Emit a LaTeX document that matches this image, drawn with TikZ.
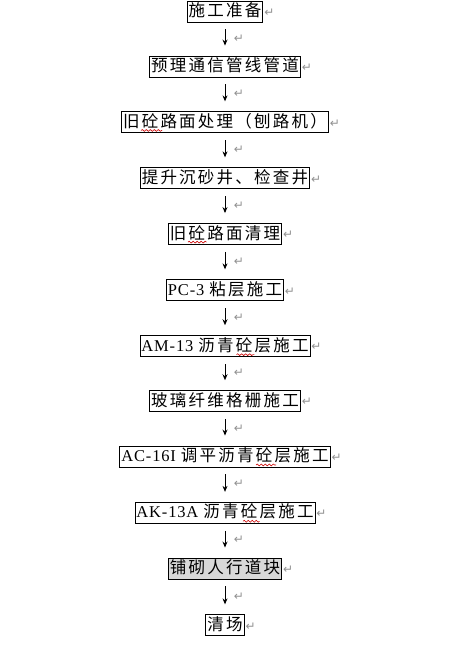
\documentclass[tikz,border=0pt]{standalone}
\usepackage{fontspec}
\setmainfont{Liberation Serif}
\newfontfamily\lat[LetterSpace=5]{Liberation Serif}
\newfontfamily\cjk[LetterSpace=13.6]{Noto Sans CJK SC}
\newfontfamily\symf{DejaVu Sans}
\usetikzlibrary{calc,arrows.meta,decorations.pathmorphing}
\definecolor{retgray}{RGB}{145,145,145}
\definecolor{boxgray}{RGB}{216,216,216}
\tikzset{
  box/.style={draw=black, line width=0.9pt, inner xsep=1.5pt, inner ysep=0pt,
    minimum height=21pt, text height=12.5pt, text depth=2.5pt,
    font=\fontsize{16.5}{18}\selectfont},
  arr/.style={-{Stealth[length=6pt,width=5pt]}, line width=0.9pt,
    shorten <=7pt, shorten >=10pt},
  ret/.style={text=retgray, font=\symf\fontsize{12}{12}\selectfont, inner sep=0pt},
  wave/.style={draw=red!80!black, line width=0.6pt, decorate,
    decoration={snake, amplitude=0.9pt, segment length=4pt}},
  shaded/.style={fill=boxgray}
}
\begin{document}
\begin{tikzpicture}[x=1pt,y=-1pt]
\useasboundingbox (0,0) rectangle (462,645);
\node[box] (b1)  at (225,11.5)  {{\cjk 施工准备}};
\node[box] (b2)  at (225,66.5)  {{\cjk 预理通信管线管道}};
\node[box] (b3)  at (225,122.3) {{\cjk 旧砼路面处理（刨路机）}};
\node[box] (b4)  at (225,178.3) {{\cjk 提升沉砂井、检查井}};
\node[box] (b5)  at (225,234)   {{\cjk 旧砼路面清理}};
\node[box] (b6)  at (225,290.3) {{\lat PC-3 }{\cjk 粘层施工}};
\node[box] (b7)  at (225,346.2) {{\lat AM-13 }{\cjk 沥青砼层施工}};
\node[box] (b8)  at (225,401.2) {{\cjk 玻璃纤维格栅施工}};
\node[box] (b9)  at (225,456.5) {{\lat AC-16I }{\cjk 调平沥青砼层施工}};
\node[box] (b10) at (225,512.8) {{\lat AK-13A }{\cjk 沥青砼层施工}};
\node[box,shaded] (b11) at (225,568.5) {{\cjk 铺砌人行道块}};
\node[box] (b12) at (225,625.3) {{\cjk 清场}};
\foreach \i in {1,...,12}{
  \node[ret] (r\i) at ($(b\i.east)+(6,1)$) {↵};
}
\foreach \i [evaluate=\i as \j using int(\i+1)] in {1,...,11}{
  \draw[arr] (b\i) -- (b\j);
  \node[ret] (ar\i) at ($(b\i.south)!0.5!(b\j.north)+(14,-0.5)$) {↵};
}
\draw[wave] ($(b3.south west)+(20,-2.8)$) -- ($(b3.south west)+(41,-2.8)$);
\draw[wave] ($(b5.south west)+(20,-2.8)$) -- ($(b5.south west)+(38.5,-2.8)$);
\draw[wave] ($(b7.south east)+(-74,-2.5)$) -- ($(b7.south east)+(-56,-2.5)$);
\draw[wave] ($(b9.south east)+(-74.5,-2.5)$) -- ($(b9.south east)+(-54.5,-2.5)$);
\draw[wave] ($(b10.south east)+(-72.5,-2.5)$) -- ($(b10.south east)+(-56,-2.5)$);
\end{tikzpicture}
\end{document}
